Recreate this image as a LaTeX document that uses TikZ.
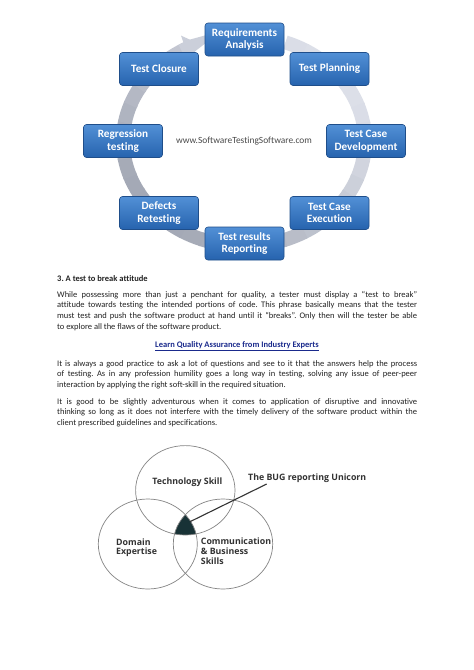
\documentclass[tikz,border=0pt]{standalone}
\usepackage{fontspec}
\setmainfont{Carlito}[Ligatures=CommonOff]
\newfontfamily\vennfont{Open Sans}
\usetikzlibrary{arrows.meta,positioning}
\frenchspacing

\definecolor{ringlight}{HTML}{DDE0E9}
\definecolor{ringdark}{HTML}{A3A8B5}
\definecolor{boxtop}{HTML}{5290D6}
\definecolor{boxbot}{HTML}{2663AE}
\definecolor{boxline}{HTML}{1F4E8A}
\definecolor{webgray}{HTML}{4A4A4A}
\definecolor{bodytext}{HTML}{222222}
\definecolor{linkblue}{HTML}{1A2A8C}
\definecolor{venngray}{HTML}{858585}
\definecolor{venntext}{HTML}{333333}
\definecolor{unicorn}{HTML}{183236}

\begin{document}
\begin{tikzpicture}[x=1pt,y=1pt,
  stage/.style={rounded corners=3pt, draw=boxline, line width=0.6pt,
    top color=boxtop, bottom color=boxbot, text=white, align=center,
    font=\fontsize{11.2}{12.6}\selectfont\bfseries,
    minimum width=79pt, minimum height=33pt, inner sep=1pt},
  para/.style={anchor=north west, inner sep=0pt, text width=360pt,
    align=justify, text=bodytext, font=\fontsize{8.5}{10.6}\selectfont},
  venn/.style={draw=venngray, line width=0.7pt},
  vennlabel/.style={inner sep=0pt, text=venntext, align=left,
    font=\vennfont\bfseries\fontsize{8.8}{9.8}\selectfont}
]

\useasboundingbox (0,0) rectangle (474,-670);
\fill[white] (0,0) rectangle (474,-670);

% Draw the cycle ring, light at the top right, darker at the bottom left
\coordinate (hub) at (244,-141);
\foreach \a in {70,60,...,-230} {
  \pgfmathsetmacro\mixval{50+50*cos(\a-45)}
  \draw[ringlight!\mixval!ringdark, line width=14pt]
    ([shift={(\a:121 and 105)}]hub) arc[start angle=\a, end angle=\a-11, x radius=121, y radius=105];
}
\draw[ringlight!70!ringdark, line width=14pt, -{Triangle[width=26pt,length=14pt]}]
  ([shift={(-239:121 and 105)}]hub) arc[start angle=-239, end angle=-248, x radius=121, y radius=105];

% Draw the stages
\node[stage] (req)    at (244.5,-39.5) {Requirements\\Analysis};
\node[stage] (plan)   at (329.5,-69)   {Test Planning};
\node[stage] (dev)    at (366,-141)    {Test Case\\Development};
\node[stage] (exec)   at (329.5,-213)  {Test Case\\Execution};
\node[stage] (report) at (244.5,-243.5) {Test results\\Reporting};
\node[stage] (retest) at (159,-213)    {Defects\\Retesting};
\node[stage] (regr)   at (123,-141)    {Regression\\testing};
\node[stage] (close)  at (159,-69)     {Test Closure};
\node[text=webgray, font=\fontsize{9.4}{11}\selectfont] (site) at (hub) {www.SoftwareTestingSoftware.com};

% Text
\node[anchor=base west, inner sep=0pt, text=bodytext, font=\fontsize{8.5}{10.6}\selectfont\bfseries] (head) at (57,-281) {3. A test to break attitude};
\node[para] (first) at (57,-291) {While possessing more than just a penchant for quality, a tester must display a “test to break”\linebreak
attitude towards testing the intended portions of code. This phrase basically means that the tester\linebreak
must test and push the software product at hand until it “breaks”. Only then will the tester be able\linebreak
to explore all the flaws of the software product.};
\node[anchor=base, inner sep=0pt, text=linkblue, font=\fontsize{8.5}{10.6}\selectfont\bfseries] (link) at (237,-347) {\underline{Learn Quality Assurance from Industry Experts}};
\node[para] (second) at (57,-360) {It is always a good practice to ask a lot of questions and see to it that the answers help the process\linebreak
of testing. As in any profession humility goes a long way in testing, solving any issue of peer-peer\linebreak
interaction by applying the right soft-skill in the required situation.};
\node[para] (third) at (57,-398) {It is good to be slightly adventurous when it comes to application of disruptive and innovative\linebreak
thinking so long as it does not interfere with the timely delivery of the software product within the\linebreak
client prescribed guidelines and specifications.};

% Venn diagram
\coordinate (techc) at (185.3,-490.3);
\coordinate (domc)  at (147.8,-544);
\coordinate (commc) at (223,-544);
\begin{scope}
  \clip (techc) ellipse [x radius=49.7, y radius=44.7];
  \clip (domc) ellipse [x radius=49.5, y radius=45];
  \fill[unicorn] (commc) ellipse [x radius=49.7, y radius=45];
\end{scope}
\draw[venn] (techc) ellipse [x radius=49.7, y radius=44.7];
\draw[venn] (domc) ellipse [x radius=49.5, y radius=45];
\draw[venn] (commc) ellipse [x radius=49.7, y radius=45];

\node[vennlabel] (tech) at (187.3,-482.7) {Technology Skill};
\node[vennlabel, anchor=west] (uni) at (248,-478) {The BUG reporting Unicorn};
\node[vennlabel, anchor=west] (domain) at (116,-547.7) {Domain\\Expertise};
\node[vennlabel, anchor=west] (comm) at (200.7,-551.3) {Communication\\\& Business\\Skills};

\coordinate (core) at (190,-521.7);
\coordinate (tail) at (266.7,-484);
\draw[venntext, line width=1.1pt] (core) -- (tail);

\end{tikzpicture}
\end{document}
